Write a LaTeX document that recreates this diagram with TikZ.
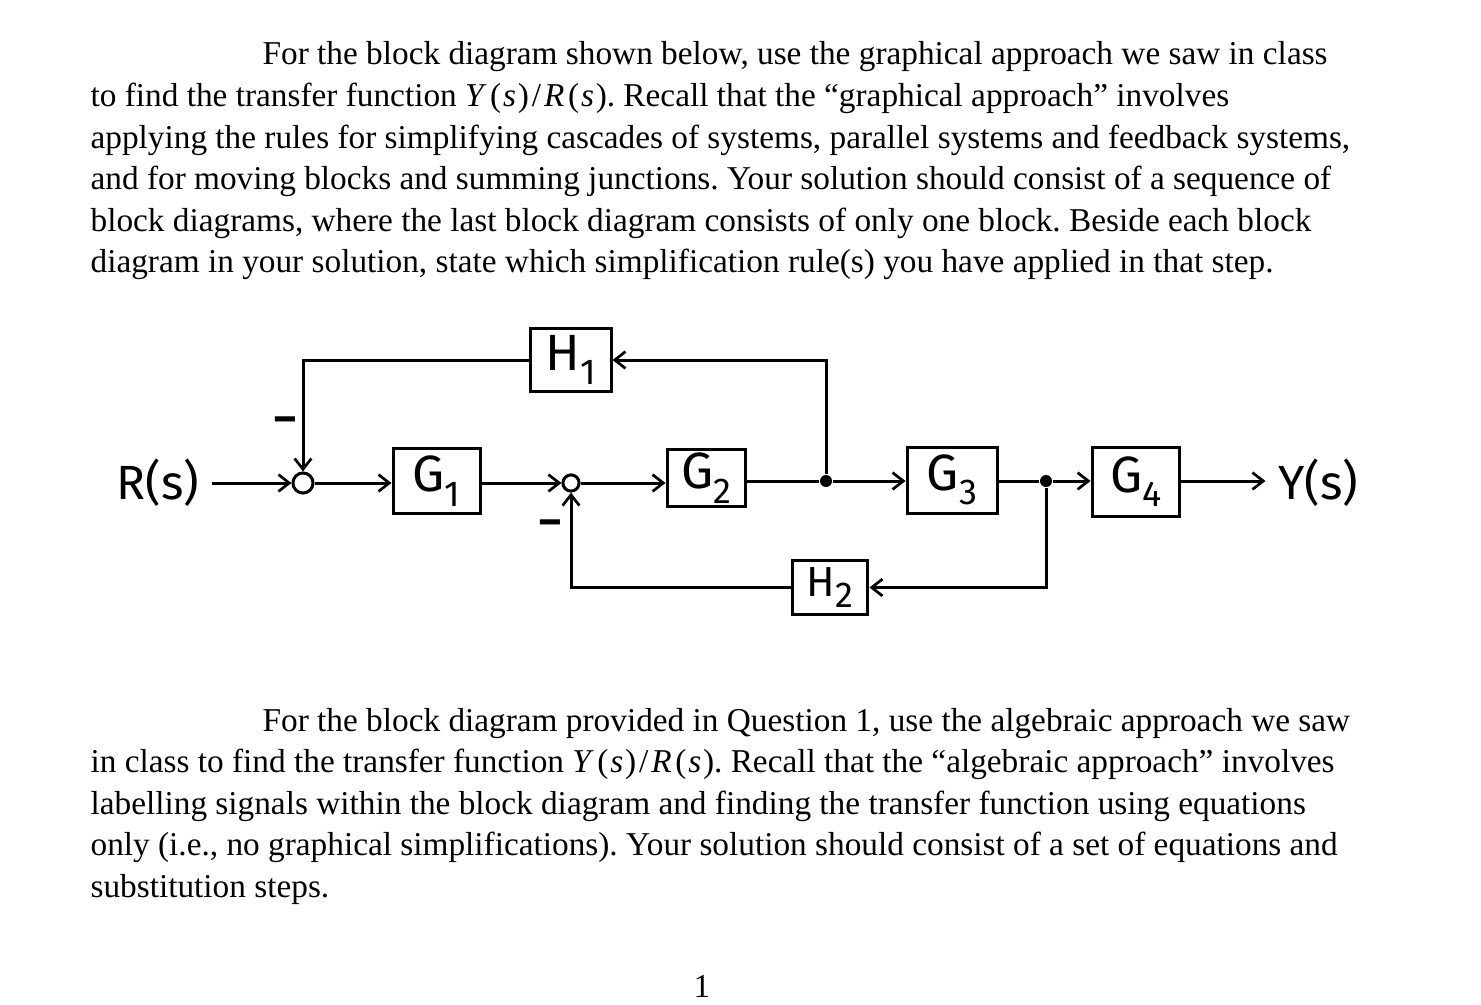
\documentclass[tikz,border=0pt]{standalone}
\usepackage{fontspec}
\setmainfont{Liberation Serif}
\newfontfamily\handfont{Fira Sans}
\usetikzlibrary{arrows.meta}
\newcommand\lsub[1]{\raisebox{-0.28em}{\fontsize{12}{12}\selectfont #1}}
\newcommand\tf{\textit{Y}\kern1.2pt(\kern0.6pt\textit{s}\kern0.6pt)\kern1pt/\kern1pt\textit{R}\kern1.2pt(\kern0.6pt\textit{s}\kern0.6pt)}
\frenchspacing
\begin{document}
\begin{tikzpicture}[x=0.33333pt,y=-0.33333pt,
  txt/.style={anchor=base west, inner sep=0, font=\fontsize{11.1}{13}\selectfont},
  blk/.style={draw, line width=1pt, inner sep=0, font=\handfont\fontsize{17}{17}\selectfont},
  wire/.style={line width=1pt},
  arr/.style={wire, -{Straight Barb[length=3.6pt,width=5.6pt,line width=0.9pt]}},
  sumj/.style={draw, circle, line width=1pt, inner sep=0},
  dotj/.style={fill, circle, inner sep=0, minimum size=4pt},
  lbl/.style={inner sep=0, font=\handfont\fontsize{16}{16}\selectfont},
  minus/.style={inner sep=0, font=\handfont\bfseries\fontsize{14}{14}\selectfont}
]
\useasboundingbox (0,0) rectangle (1481,1004);
% paragraph 1
\node[txt] (a1) at (262,65) {For the block diagram shown below, use the graphical approach we saw in class};
\node[txt] (a2) at (90,106.5) {to find the transfer function \tf. Recall that the “graphical approach” involves};
\node[txt] (a3) at (90,148) {applying the rules for simplifying cascades of systems, parallel systems and feedback systems,};
\node[txt] (a4) at (90,189.5) {and for moving blocks and summing junctions. Your solution should consist of a sequence of};
\node[txt] (a5) at (90,231) {block diagrams, where the last block diagram consists of only one block. Beside each block};
\node[txt] (a6) at (90,272.5) {diagram in your solution, state which simplification rule(s) you have applied in that step.};
% paragraph 2
\node[txt] (b1) at (262,731) {For the block diagram provided in Question 1, use the algebraic approach we saw};
\node[txt] (b2) at (90,772.5) {in class to find the transfer function \tf. Recall that the “algebraic approach” involves};
\node[txt] (b3) at (90,814) {labelling signals within the block diagram and finding the transfer function using equations};
\node[txt] (b4) at (90,855.5) {only (i.e., no graphical simplifications). Your solution should consist of a set of equations and};
\node[txt] (b5) at (90,897) {substitution steps.};
\node[txt, anchor=base] (pg) at (702,997) {1};
% diagram
\node[lbl] (R) at (158,483) {R(s)};
\node[lbl] (Y) at (1318,483) {Y(s)};
\node[sumj, minimum size=6.7pt] (s1) at (303,483) {};
\node[sumj, minimum size=5.4pt] (s2) at (571,483) {};
\node[blk, minimum width=29pt, minimum height=21.7pt] (G1) at (436.5,481) {G\lsub{1}};
\node[blk, minimum width=26pt, minimum height=19.3pt] (G2) at (706,478) {G\lsub{2}};
\node[blk, minimum width=30pt, minimum height=22pt] (G3) at (952,480) {G\lsub{3}};
\node[blk, minimum width=29.3pt, minimum height=23pt] (G4) at (1136,481.5) {G\lsub{4}};
\node[blk, minimum width=27pt, minimum height=21pt] (H1) at (570.5,360) {H\lsub{1}};
\node[blk, minimum width=25.3pt, minimum height=17.7pt, font=\handfont\fontsize{14}{14}\selectfont] (H2) at (830,587.5) {H\lsub{2}};
\node[dotj] (p1) at (826,481) {};
\node[dotj] (p2) at (1046,481) {};
\node[minus] (m1) at (285,425) {–};
\node[minus] (m2) at (550,528) {–};
% connectors
\draw[arr] (R.east) ++(12,0) coordinate (r0) -- (s1.west);
\draw[arr] (s1.east) -- (G1.west |- s1);
\draw[arr] (G1.east |- s2) -- (s2.west);
\draw[arr] (s2.east) -- (G2.west |- s2);
\draw[wire] (G2.east |- p1) -- (p1);
\draw[arr] (p1) -- (G3.west |- p1);
\draw[wire] (G3.east |- p2) -- (p2);
\draw[arr] (p2) -- (G4.west |- p2);
\draw[arr] (G4.east |- p2) -- ([xshift=-4pt]Y.west |- p2);
\draw[arr] (p1) |- (H1.east);
\draw[arr] (H1.west) -| (s1.north);
\draw[arr] (p2) |- (H2.east);
\draw[arr] (H2.west) -| (s2.south);
\end{tikzpicture}
\end{document}
